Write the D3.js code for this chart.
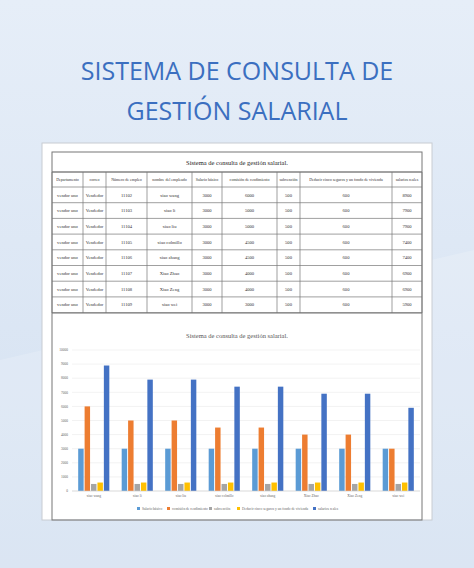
<!DOCTYPE html>
<html><head><meta charset="utf-8">
<script src="https://cdn.jsdelivr.net/npm/d3@7"></script>
<style>body{margin:0;overflow:hidden}svg{display:block}</style>
</head><body>
<svg id="c" width="474" height="568"></svg>
<script>
const names = ["xiao wang","xiao li","xiao liu","xiao colmillo","xiao zhang","Xiao Zhao","Xiao Zeng","xiao wei"];
const ids = ["11102","11103","11104","11105","11106","11107","11108","11109"];
const basico = [3000,3000,3000,3000,3000,3000,3000,3000];
const comision = [6000,5000,5000,4500,4500,4000,4000,3000];
const subvencion = [500,500,500,500,500,500,500,500];
const deduce = [600,600,600,600,600,600,600,600];
const reales = [8900,7900,7900,7400,7400,6900,6900,5900];
const headers = ["Departamento","correo","Número de empleo","nombre del empleado","Salario básico","comisión de rendimiento","subvención","Deducir cinco seguros y un fondo de vivienda","salarios reales"];
const seriesNames = ["Salario básico","comisión de rendimiento","subvención","Deducir cinco seguros y un fondo de vivienda","salarios reales"];
const colors = ["#5b9bd5","#ed7d31","#a5a5a5","#ffc000","#4472c4"];
const yTicks = [0,1000,2000,3000,4000,5000,6000,7000,8000,9000,10000];

const svg = d3.select("#c");
const defs = svg.append("defs");
const g = defs.append("linearGradient").attr("id","bg").attr("x1",0).attr("y1",0).attr("x2",0).attr("y2",1);
g.append("stop").attr("offset",0).attr("stop-color","#e6eef8");
g.append("stop").attr("offset",1).attr("stop-color","#d3e0f1");
svg.append("rect").attr("width",474).attr("height",568).attr("fill","url(#bg)");
svg.append("path").attr("d","M0,360 L474,250 L474,568 L0,568Z").attr("fill","#ffffff").attr("opacity",0.18);

svg.selectAll("text.t").data(["SISTEMA DE CONSULTA DE","GESTIÓN SALARIAL"]).join("text")
  .attr("x",237).attr("y",(d,i)=>80+i*40).attr("text-anchor","middle")
  .attr("font-family","Open Sans, sans-serif").attr("font-size",25).attr("fill","#3b6fc0")
  .text(d=>d);

// card
svg.append("rect").attr("x",42).attr("y",143).attr("width",390).attr("height",377).attr("fill","#fff").attr("stroke","#c8ccd2");
svg.append("rect").attr("x",52).attr("y",152).attr("width",370).attr("height",368).attr("fill","none").attr("stroke","#777");

// table
const colX = [52,83,106,147,192,222,277,300,392,422];
const f = "Liberation Serif, serif";
svg.append("line").attr("x1",52).attr("x2",422).attr("y1",172).attr("y2",172).attr("stroke","#777");
svg.append("text").attr("x",237).attr("y",165).attr("text-anchor","middle").attr("font-family",f).attr("font-size",6.5).attr("fill","#222").text("Sistema de consulta de gestión salarial.");
const rowY = d3.range(10).map(i=> i==0?172:187+(i-1)*15.7);
rowY.forEach(y=>svg.append("line").attr("x1",52).attr("x2",422).attr("y1",y).attr("y2",y).attr("stroke","#777").attr("stroke-width",0.7));
svg.append("line").attr("x1",52).attr("x2",422).attr("y1",313).attr("y2",313).attr("stroke","#777");
colX.forEach(x=>svg.append("line").attr("x1",x).attr("x2",x).attr("y1",172).attr("y2",313).attr("stroke","#777").attr("stroke-width",0.7));
headers.forEach((h,i)=>svg.append("text").attr("x",(colX[i]+colX[i+1])/2).attr("y",181).attr("text-anchor","middle")
  .attr("font-family",f).attr("font-size",4).attr("fill","#333").text(h));
names.forEach((n,r)=>{
  const vals=["vendor uno","Vendedor",ids[r],n,basico[r],comision[r],subvencion[r],deduce[r],reales[r]];
  vals.forEach((v,i)=>svg.append("text").attr("x",(colX[i]+colX[i+1])/2).attr("y",rowY[r+1]+9.5).attr("text-anchor","middle")
    .attr("font-family",f).attr("font-size",4.6).attr("fill","#333").text(v));
});

// chart
svg.append("text").attr("x",237).attr("y",338).attr("text-anchor","middle").attr("font-family",f).attr("font-size",6.5).attr("fill","#555").text("Sistema de consulta de gestión salarial.");
const x = d3.scaleBand().domain(names).range([72,420]).paddingInner(0.24).paddingOuter(0.12);
const y = d3.scaleLinear().domain([0,10000]).range([491,350]);
const xs = d3.scaleBand().domain(d3.range(5)).range([0,x.bandwidth()]).padding(0.15);
svg.append("g").selectAll("line").data(yTicks).join("line").attr("x1",72).attr("x2",420)
  .attr("y1",d=>y(d)).attr("y2",d=>y(d)).attr("stroke","#e4e4e4").attr("stroke-width",0.5);
svg.append("g").selectAll("text").data(yTicks).join("text").attr("x",68).attr("y",d=>y(d)+1.2).attr("text-anchor","end")
  .attr("font-family",f).attr("font-size",3.5).attr("fill","#666").text(d=>d);
const series=[basico,comision,subvencion,deduce,reales];
series.forEach((s,k)=>svg.append("g").selectAll("rect").data(s).join("rect")
  .attr("x",(d,i)=>x(names[i])+xs(k)).attr("width",xs.bandwidth()).attr("y",d=>y(d)).attr("height",d=>491-y(d)).attr("fill",colors[k]));
svg.append("line").attr("x1",72).attr("x2",420).attr("y1",491).attr("y2",491).attr("stroke","#ccc").attr("stroke-width",0.6);
svg.append("g").selectAll("text").data(names).join("text").attr("x",d=>x(d)+x.bandwidth()/2).attr("y",497).attr("text-anchor","middle")
  .attr("font-family",f).attr("font-size",3.5).attr("fill","#666").text(d=>d);
const legX=[137,167,209,237,313];
seriesNames.forEach((n,k)=>{
  svg.append("rect").attr("x",legX[k]).attr("y",507).attr("width",3).attr("height",3).attr("fill",colors[k]);
  svg.append("text").attr("x",legX[k]+5).attr("y",510).attr("font-family",f).attr("font-size",3.6).attr("fill","#666").text(n);
});
</script></body></html>
